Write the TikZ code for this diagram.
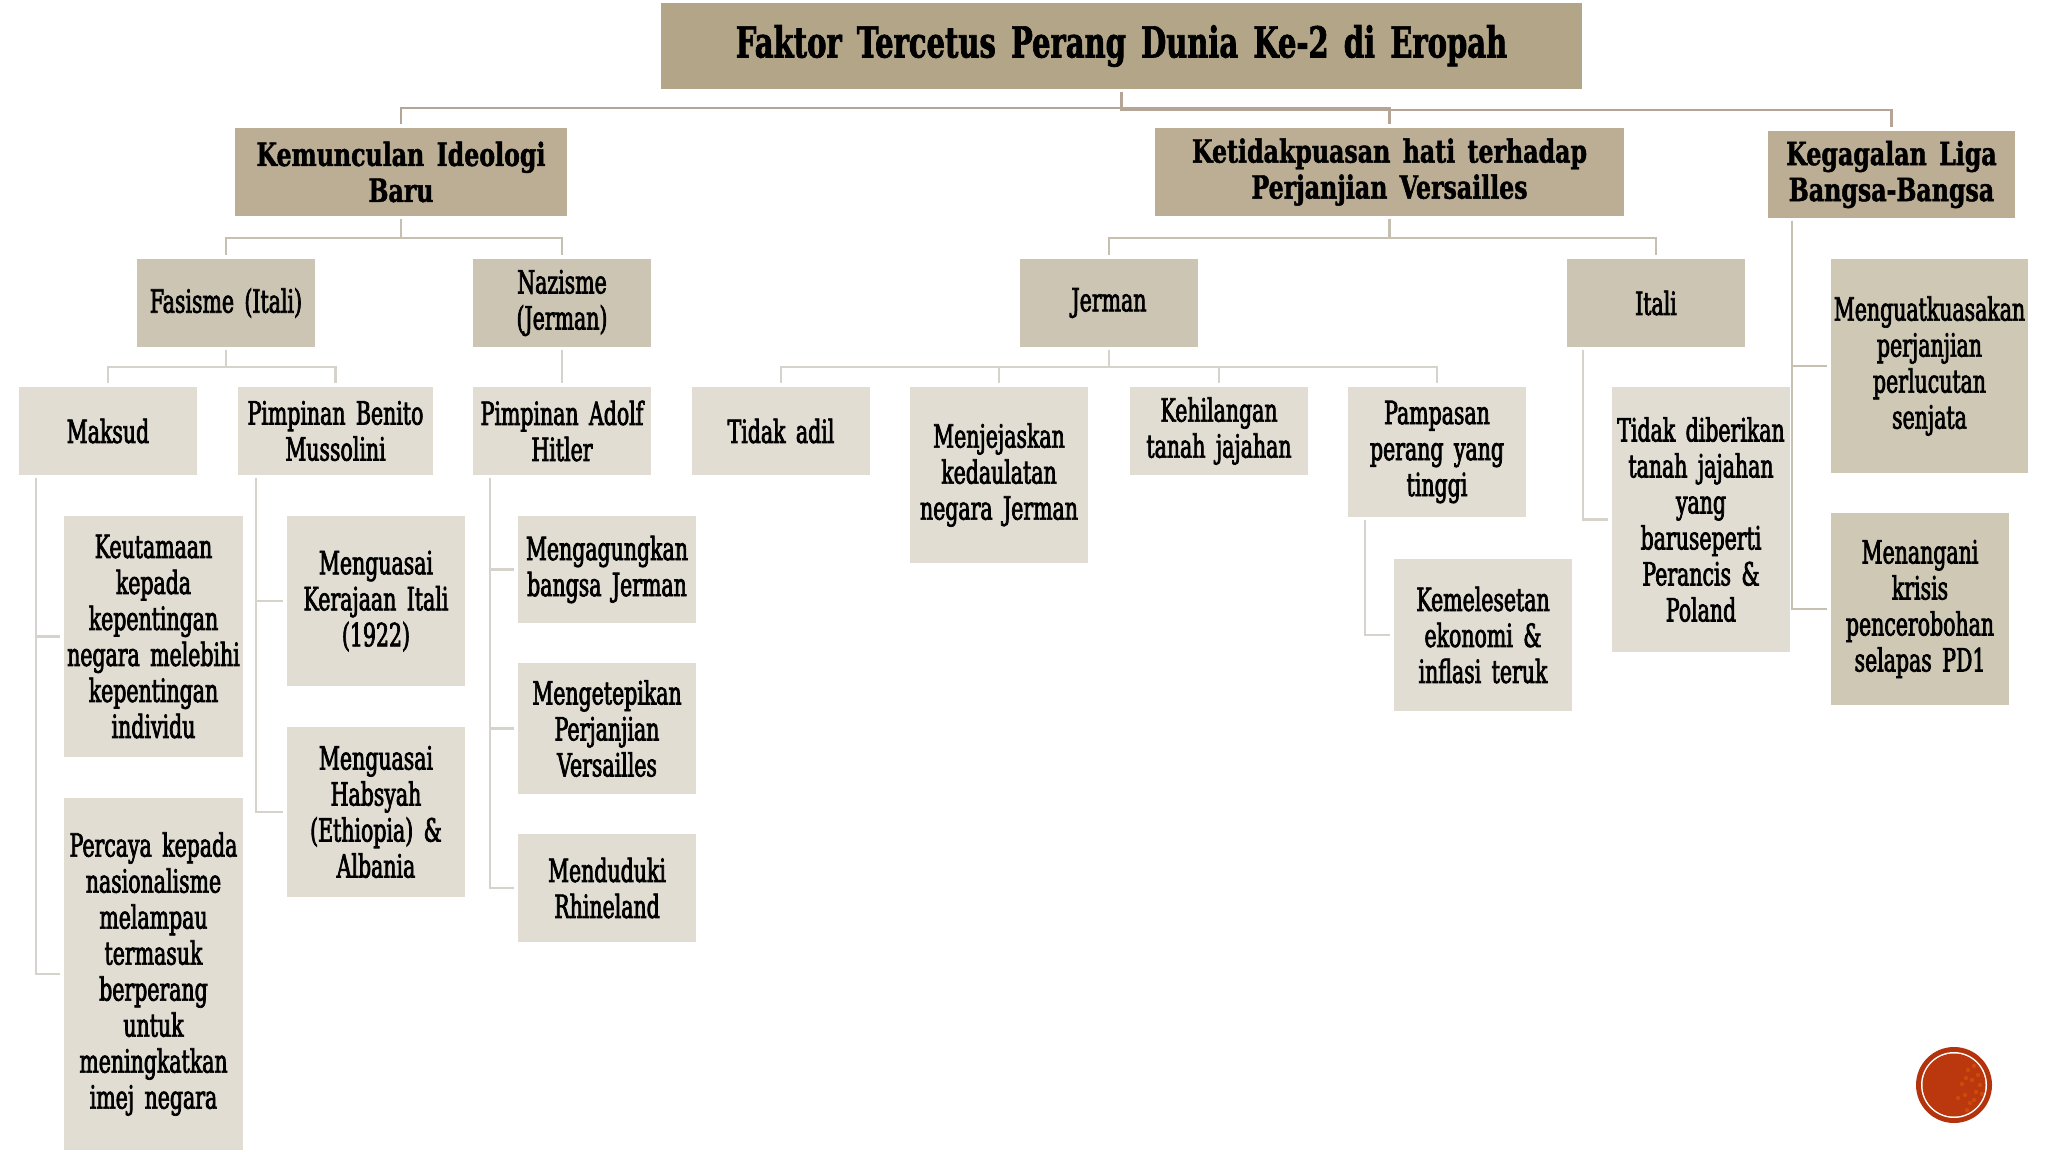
\documentclass[tikz,border=0pt]{standalone}
\usepackage{fontspec}
\setmainfont{DejaVu Serif}[FakeStretch=0.64,WordSpace=1.6,FakeBold=2.2]
\newfontfamily\boldslab{DejaVu Serif Bold}[FakeStretch=0.74,WordSpace=1.5,FakeBold=1.4]
\newfontfamily\titleslab{DejaVu Serif Bold}[FakeStretch=0.68,WordSpace=1.5,FakeBold=1.6]
\usetikzlibrary{calc}
\definecolor{cA}{HTML}{B3A588}
\definecolor{cB}{HTML}{BBAE95}
\definecolor{cC}{HTML}{CCC5B3}
\definecolor{cD}{HTML}{E1DDD3}
\definecolor{cE}{HTML}{CEC8B5}
\definecolor{lA}{HTML}{B5A597}
\definecolor{lB}{HTML}{C6C0B2}
\definecolor{lC}{HTML}{D6D3CC}
\definecolor{redA}{HTML}{B3330D}
\definecolor{redB}{HTML}{BB370E}
\tikzset{
  base/.style={rectangle,inner sep=0pt,outer sep=0pt,align=center,text=black},
  titlebox/.style={base,fill=cA,font=\fontsize{32}{36}\selectfont\titleslab},
  headbox/.style={base,fill=cB,font=\fontsize{24}{27}\selectfont\boldslab},
  midbox/.style={base,fill=cC,font=\fontsize{24}{27}\selectfont},
  leafbox/.style={base,fill=cD,font=\fontsize{24}{27}\selectfont},
  sidebox/.style={base,fill=cE,font=\fontsize{24}{27}\selectfont},
  topline/.style={draw=lA,line width=1.8pt,shorten <=2pt,shorten >=3pt},
  midline/.style={draw=lB,line width=1.8pt,shorten <=2pt,shorten >=3pt},
  lowline/.style={draw=lC,line width=1.8pt,shorten <=2pt,shorten >=3pt},
}
\newcommand\bx[7]{\node[#6,minimum width={(#4-#2)*0.75},minimum height={(#5-#3)*0.75}] (#1) at ({(#2+#4)/2},{(#3+#5)/2}) {#7};}
\begin{document}
\begin{tikzpicture}[x=0.75pt,y=-0.75pt]
\useasboundingbox (0,0) rectangle (2048,1152);
\fill[white] (0,0) rectangle (2048,1152);
\bx{title}{661}{3}{1582}{89}{titlebox}{Faktor Tercetus Perang Dunia Ke-2 di Eropah}
\bx{ideo}{235}{128}{567}{216}{headbox}{Kemunculan Ideologi\\Baru}
\bx{ketid}{1155}{128}{1624}{216}{headbox}{Ketidakpuasan hati terhadap\\Perjanjian Versailles}
\bx{liga}{1768}{131}{2015}{218}{headbox}{Kegagalan Liga\\Bangsa-Bangsa}
\bx{fasis}{137}{259}{315}{347}{midbox}{Fasisme (Itali)}
\bx{nazi}{473}{259}{651}{347}{midbox}{Nazisme\\(Jerman)}
\bx{jerman}{1020}{259}{1198}{347}{midbox}{Jerman}
\bx{itali}{1567}{259}{1745}{347}{midbox}{Itali}
\bx{maksud}{19}{387}{197}{475}{leafbox}{Maksud}
\bx{benito}{238}{387}{433}{475}{leafbox}{Pimpinan Benito\\Mussolini}
\bx{adolf}{473}{387}{651}{475}{leafbox}{Pimpinan Adolf\\Hitler}
\bx{adil}{692}{387}{870}{475}{leafbox}{Tidak adil}
\bx{jejas}{910}{387}{1088}{563}{leafbox}{Menjejaskan\\kedaulatan\\negara Jerman}
\bx{hilang}{1130}{387}{1308}{475}{leafbox}{Kehilangan\\tanah jajahan}
\bx{pampas}{1348}{387}{1526}{517}{leafbox}{Pampasan\\perang yang\\tinggi}
\bx{tanah}{1612}{387}{1790}{652}{leafbox}{Tidak diberikan\\tanah jajahan\\yang\\baruseperti\\Perancis \&\\Poland}
\bx{kuasa}{1831}{259}{2028}{473}{sidebox}{Menguatkuasakan\\perjanjian\\perlucutan\\senjata}
\bx{krisis}{1831}{513}{2009}{705}{sidebox}{Menangani\\krisis\\pencerobohan\\selapas PD1}
\bx{utama}{64}{516}{243}{757}{leafbox}{Keutamaan\\kepada\\kepentingan\\negara melebihi\\kepentingan\\individu}
\bx{percaya}{64}{798}{243}{1150}{leafbox}{Percaya kepada\\nasionalisme\\melampau\\termasuk\\berperang\\untuk\\meningkatkan\\imej negara}
\bx{kerajaan}{287}{516}{465}{686}{leafbox}{Menguasai\\Kerajaan Itali\\(1922)}
\bx{habsyah}{287}{727}{465}{897}{leafbox}{Menguasai\\Habsyah\\(Ethiopia) \&\\Albania}
\bx{agung}{518}{516}{696}{623}{leafbox}{Mengagungkan\\bangsa Jerman}
\bx{tepi}{518}{663}{696}{794}{leafbox}{Mengetepikan\\Perjanjian\\Versailles}
\bx{duduk}{518}{834}{696}{942}{leafbox}{Menduduki\\Rhineland}
\bx{lesat}{1394}{559}{1572}{711}{leafbox}{Kemelesetan\\ekonomi \&\\inflasi teruk}
% top level
\draw[topline] (title.south) -- ++(0,19) -| (ideo.north);
\draw[topline] (title.south) -- ++(0,19) -| (ketid.north);
\draw[topline] (title.south) -- ++(0,21) -| (liga.north);
% second level
\foreach \c in {fasis,nazi}{\draw[midline] (ideo.south) -- ++(0,22) -| (\c.north);}
\foreach \c in {jerman,itali}{\draw[midline] (ketid.south) -- ++(0,22) -| (\c.north);}
% third level
\foreach \c in {maksud,benito}{\draw[lowline] (fasis.south) -- ++(0,20) -| (\c.north);}
\draw[lowline] (nazi.south) -- (adolf.north);
\foreach \c in {adil,jejas,hilang,pampas}{\draw[lowline] (jerman.south) -- ++(0,20) -| (\c.north);}
% side branches
\foreach \c in {utama,percaya}{\draw[lowline] ($(maksud.south west)+(17,0)$) |- (\c.west);}
\foreach \c in {kerajaan,habsyah}{\draw[lowline] ($(benito.south west)+(18,0)$) |- (\c.west);}
\foreach \c in {agung,tepi,duduk}{\draw[lowline] ($(adolf.south west)+(17,0)$) |- (\c.west);}
\draw[lowline] ($(pampas.south west)+(17,0)$) |- (lesat.west);
\draw[lowline] ($(itali.south west)+(16,0)$) |- (tanah.west);
\foreach \c in {kuasa,krisis}{\draw[midline] ($(liga.south west)+(24,0)$) |- (\c.west);}
% badge
\fill[redA] (1954,1085) circle (38);
\fill[white] (1954,1085) circle (33);
\fill[redB] (1954,1085) circle (31.5);
\foreach \p/\q in {1968/1070,1972/1080,1976/1092,1965/1095,1970/1103,1978/1075,1962/1084,1980/1085,1974/1066,1967/1110,1958/1098,1974/1100,1966/1078,1982/1094}{\fill[orange!60!redB,opacity=.45] (\p,\q) circle (2.2);}
\end{tikzpicture}
\end{document}
